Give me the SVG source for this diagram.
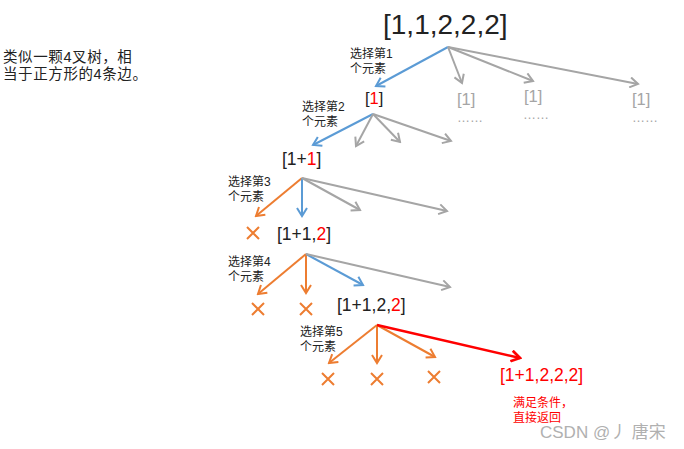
<svg xmlns="http://www.w3.org/2000/svg" width="684" height="449" viewBox="0 0 684 449">
<style>
.lbl{font-family:"Liberation Sans","Noto Sans CJK SC",sans-serif;font-size:12px;fill:#222}
.val{font-family:"Liberation Sans","Noto Sans CJK SC",sans-serif;font-size:17.5px;fill:#222}
.note{font-family:"Liberation Sans","Noto Sans CJK SC",sans-serif;font-size:14.5px;letter-spacing:0.6px;fill:#222}
.r{fill:#FF0000}
.g{fill:#A5A5A5}
.b{stroke:#5B9BD5;stroke-width:2;fill:none;marker-end:url(#mb)}
.o{stroke:#ED7D31;stroke-width:2;fill:none;marker-end:url(#mo)}
.gr{stroke:#A5A5A5;stroke-width:2;fill:none;marker-end:url(#mg)}
.rd{stroke:#FF0000;stroke-width:2.5;fill:none;marker-end:url(#mr)}
.x{stroke:#ED7D31;stroke-width:2;fill:none}
</style>
<defs>
<marker id="mb" viewBox="0 0 12 12" refX="10" refY="6" markerWidth="12" markerHeight="12" markerUnits="userSpaceOnUse" orient="auto"><path d="M2,1 L10,6 L2,11" fill="none" stroke="#5B9BD5" stroke-width="2"/></marker>
<marker id="mo" viewBox="0 0 12 12" refX="10" refY="6" markerWidth="12" markerHeight="12" markerUnits="userSpaceOnUse" orient="auto"><path d="M2,1 L10,6 L2,11" fill="none" stroke="#ED7D31" stroke-width="2"/></marker>
<marker id="mg" viewBox="0 0 12 12" refX="10" refY="6" markerWidth="12" markerHeight="12" markerUnits="userSpaceOnUse" orient="auto"><path d="M2,1 L10,6 L2,11" fill="none" stroke="#A5A5A5" stroke-width="2"/></marker>
<marker id="mr" viewBox="0 0 12 12" refX="10" refY="6" markerWidth="13" markerHeight="13" markerUnits="userSpaceOnUse" orient="auto"><path d="M2,1 L10,6 L2,11" fill="none" stroke="#FF0000" stroke-width="2.5"/></marker>
</defs>
<rect width="684" height="449" fill="#fff"/>

<g id="note">
<text class="note" x="3" y="62">类似一颗4叉树，相</text>
<text class="note" x="3" y="79">当于正方形的4条边。</text>
</g>

<g id="connectors">
<line class="b" x1="448" y1="47" x2="376" y2="86"/>
<line class="gr" x1="448" y1="47" x2="462" y2="83"/>
<line class="gr" x1="448" y1="47" x2="533" y2="81"/>
<line class="gr" x1="448" y1="47" x2="638" y2="84"/>

<line class="b" x1="373" y1="114" x2="313" y2="145"/>
<line class="gr" x1="373" y1="114" x2="356" y2="146"/>
<line class="gr" x1="373" y1="114" x2="400" y2="142"/>
<line class="gr" x1="373" y1="114" x2="451" y2="141"/>

<line class="o" x1="302" y1="178" x2="256" y2="216"/>
<line class="b" x1="302" y1="178" x2="302" y2="216"/>
<line class="gr" x1="302" y1="178" x2="360" y2="210"/>
<line class="gr" x1="302" y1="178" x2="447" y2="211"/>

<line class="o" x1="306" y1="254" x2="258" y2="294"/>
<line class="o" x1="306" y1="254" x2="306" y2="293"/>
<line class="b" x1="306" y1="254" x2="363" y2="285"/>
<line class="gr" x1="306" y1="254" x2="450" y2="287"/>

<line class="o" x1="377" y1="325" x2="329" y2="363"/>
<line class="o" x1="377" y1="325" x2="377" y2="363"/>
<line class="o" x1="377" y1="325" x2="435" y2="357"/>
<line class="rd" x1="377" y1="325" x2="520" y2="358"/>
</g>

<g id="root"><text class="val" x="383" y="34" style="font-size:28px">[1,1,2,2,2]</text></g>

<g id="lbl1"><text class="lbl" x="350" y="58">选择第1</text><text class="lbl" x="350" y="73">个元素</text></g>
<g id="n1"><text class="val" x="365" y="104" style="font-size:16.5px">[<tspan class="r">1</tspan>]</text></g>
<g id="n1b"><text class="val g" x="457" y="105" style="font-size:16.5px">[1]</text><text class="g" x="457" y="122" style="font-family:'Liberation Sans',sans-serif;font-size:13px">……</text></g>
<g id="n1c"><text class="val g" x="524" y="102" style="font-size:16.5px">[1]</text><text class="g" x="523" y="119" style="font-family:'Liberation Sans',sans-serif;font-size:13px">……</text></g>
<g id="n1d"><text class="val g" x="632" y="105" style="font-size:16.5px">[1]</text><text class="g" x="632" y="122" style="font-family:'Liberation Sans',sans-serif;font-size:13px">……</text></g>

<g id="lbl2"><text class="lbl" x="302" y="111">选择第2</text><text class="lbl" x="302" y="126">个元素</text></g>
<g id="n2"><text class="val" x="282" y="165">[1+<tspan class="r">1</tspan>]</text></g>

<g id="lbl3"><text class="lbl" x="228" y="186">选择第3</text><text class="lbl" x="228" y="201">个元素</text></g>
<g id="x3a"><path class="x" d="M247,227 L259,239 M259,227 L247,239"/></g>
<g id="n3"><text class="val" x="277" y="240">[1+1,<tspan class="r">2</tspan>]</text></g>

<g id="lbl4"><text class="lbl" x="228" y="266">选择第4</text><text class="lbl" x="228" y="281">个元素</text></g>
<g id="x4a"><path class="x" d="M252,303 L264,315 M264,303 L252,315"/></g>
<g id="x4b"><path class="x" d="M300,303 L312,315 M312,303 L300,315"/></g>
<g id="n4"><text class="val" x="337" y="311">[1+1,2,<tspan class="r">2</tspan>]</text></g>

<g id="lbl5"><text class="lbl" x="300" y="336">选择第5</text><text class="lbl" x="300" y="351">个元素</text></g>
<g id="x5a"><path class="x" d="M322,373 L334,385 M334,373 L322,385"/></g>
<g id="x5b"><path class="x" d="M371,373 L383,385 M383,373 L371,385"/></g>
<g id="x5c"><path class="x" d="M428,371 L440,383 M440,371 L428,383"/></g>
<g id="n5"><text class="val r" x="500" y="381">[1+1,2,2,2]</text>
<text class="lbl r" x="513" y="407">满足条件，</text><text class="lbl r" x="513" y="422">直接返回</text></g>

<g id="watermark"><text x="540" y="438" style="font-family:'Liberation Sans','Noto Sans CJK SC',sans-serif;font-size:17px;fill:#B0B0B0">CSDN @丿 唐宋</text></g>
</svg>
